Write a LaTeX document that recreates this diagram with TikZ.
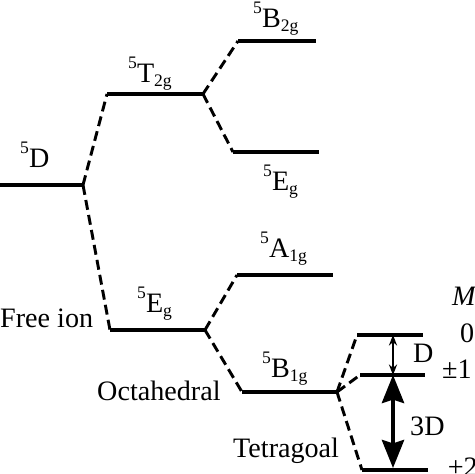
\documentclass[tikz,border=0pt]{standalone}
\usepackage{fontspec}
\setmainfont{Liberation Serif}
\usetikzlibrary{arrows.meta}
\tikzset{
  level/.style={line width=2.7pt},
  link/.style={line width=2.5pt, dash pattern=on 8.5pt off 4.5pt},
  lbl/.style={anchor=base west, inner sep=0pt, font=\fontsize{24}{28}\selectfont},
}
\newcommand\lterm[3]{\raisebox{11.5pt}{\fontsize{15}{18}\selectfont #1}#2\raisebox{-3.5pt}{\fontsize{15}{18}\selectfont #3}}

\begin{document}
\begin{tikzpicture}[x=0.03cm, y=-0.03cm]
			%%%%% START %%%%%
			\useasboundingbox (0, 0) rectangle (474, 474);
			
			\coordinate (fi-l) at (0, 185);
			\coordinate (fi-r) at (83, 185);
			\coordinate (t2g-l) at (107, 94);
			\coordinate (t2g-r) at (203, 94);
			\coordinate (eg-l) at (110, 330);
			\coordinate (eg-r) at (205, 330);
			\coordinate (b2g-l) at (238, 41);
			\coordinate (b2g-r) at (316, 41);
			\coordinate (egt-l) at (233, 152);
			\coordinate (egt-r) at (319, 152);
			\coordinate (a1g-l) at (237, 275);
			\coordinate (a1g-r) at (333, 275);
			\coordinate (b1g-l) at (242, 392);
			\coordinate (b1g-r) at (337, 392);
			\coordinate (m0-l) at (357, 335);
			\coordinate (m0-r) at (423, 335);
			\coordinate (m1-l) at (360, 375);
			\coordinate (m1-r) at (425, 375);
			\coordinate (m2-l) at (362, 470);
			\coordinate (m2-r) at (428, 470);
			\coordinate (ar0) at (393, 335);
			\coordinate (ar1) at (393, 375);
			\coordinate (ar2) at (393, 468);
			
			\draw[level] (fi-l) -- (fi-r);
			\draw[level] (t2g-l) -- (t2g-r);
			\draw[level] (eg-l) -- (eg-r);
			\draw[level] (b2g-l) -- (b2g-r);
			\draw[level] (egt-l) -- (egt-r);
			\draw[level] (a1g-l) -- (a1g-r);
			\draw[level] (b1g-l) -- (b1g-r);
			\draw[level] (m0-l) -- (m0-r);
			\draw[level] (m1-l) -- (m1-r);
			\draw[line width=4.2pt] (m2-l) -- (m2-r);
			
			\draw[link] (fi-r) -- (t2g-l);
			\draw[link] (fi-r) -- (eg-l);
			\draw[link] (t2g-r) -- (b2g-l);
			\draw[link] (t2g-r) -- (egt-l);
			\draw[link] (eg-r) -- (a1g-l);
			\draw[link] (eg-r) -- (b1g-l);
			\draw[link] (b1g-r) -- (m0-l);
			\draw[link] (b1g-r) -- (m1-l);
			\draw[link] (b1g-r) -- (m2-l);
			
			\draw[line width=1.3pt, {Stealth[length=9pt,width=7pt]}-{Stealth[length=9pt,width=7pt]}] (ar0) -- (ar1);
			\draw[line width=3pt, {Stealth[length=24pt,width=19pt,inset=3pt]}-{Stealth[length=24pt,width=19pt,inset=3pt]}] (ar1) -- (ar2);
			
			\node[lbl] (l5d) at (20, 167) {\lterm{5}{D}{}};
			\node[lbl] (lt2g) at (128, 82) {\lterm{5}{T}{2g}};
			\node[lbl] (lb2g) at (253, 27) {\lterm{5}{B}{2g}};
			\node[lbl] (legt) at (263, 190) {\lterm{5}{E}{g}};
			\node[lbl] (leg) at (137, 312) {\lterm{5}{E}{g}};
			\node[lbl] (la1g) at (260, 257) {\lterm{5}{A}{1g}};
			\node[lbl] (lb1g) at (262, 377) {\lterm{5}{B}{1g}};
			\node[lbl] (lfree) at (0, 327) {Free ion};
			\node[lbl] (locta) at (97, 400) {Octahedral};
			\node[lbl] (ltetra) at (233, 457) {Tetragoal};
			\node[lbl] (ld) at (413, 362) {D};
			\node[lbl] (l3d) at (410, 435) {3D};
			\node[lbl] (lm) at (452, 305) {\itshape M};
			\node[lbl] (lm0) at (460, 342) {0};
			\node[lbl] (lm1) at (442, 378) {±1};
			\node[lbl] (lm2) at (448, 476) {±2};
			
			%%%%% END %%%%%
		\end{tikzpicture}
\end{document}
